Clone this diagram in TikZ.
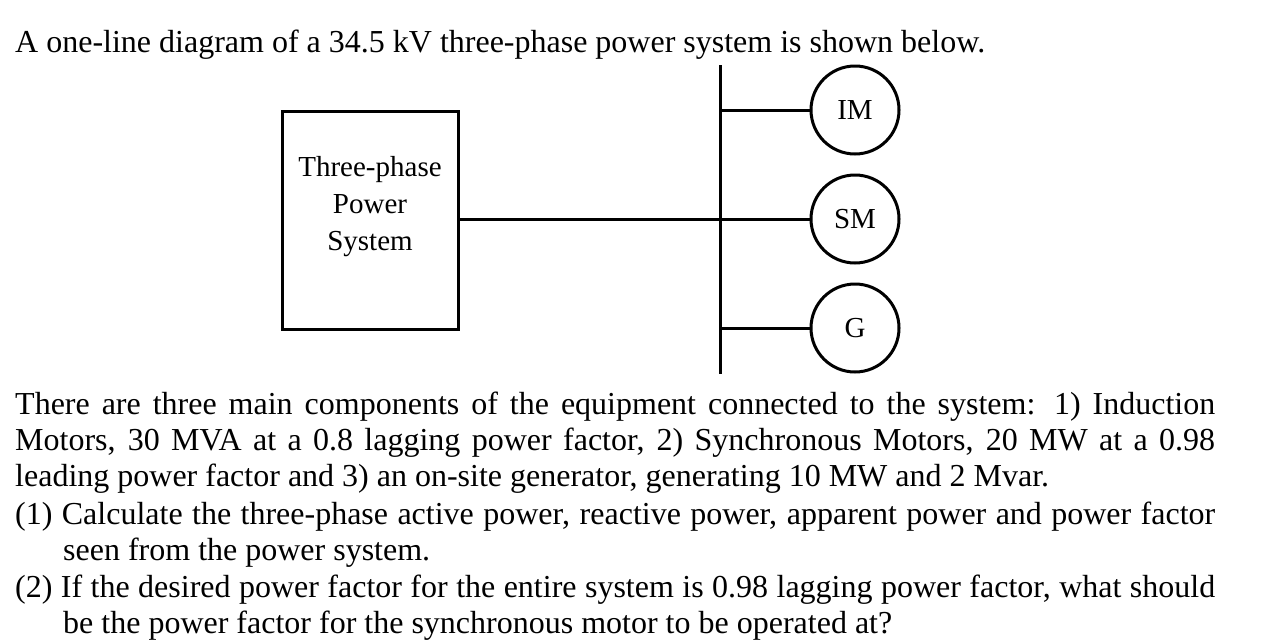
\documentclass[tikz,border=0pt]{standalone}
\usepackage{fontspec}
\setmainfont{Liberation Serif}
\begin{document}
\begin{tikzpicture}[x=1pt,y=-1pt,
  ln/.style={line width=3pt},
  mach/.style={circle,draw,line width=3pt,minimum size=88pt,inner sep=0pt,font=\fontsize{29}{32}\selectfont},
  txt/.style={inner sep=0pt,anchor=base west,align=justify,text width=1200pt,font=\fontsize{32}{36}\selectfont}]
\useasboundingbox (0,0) rectangle (1268,640);
\node[inner sep=0pt,anchor=base west,font=\fontsize{32}{36}\selectfont] (title) at (15,52) {A one-line diagram of a 34.5 kV three-phase power system is shown below.};
\node[draw,ln,minimum width=176pt,minimum height=218pt,inner sep=0pt] (ps) at (370,220) {};
\node[inner sep=0pt,align=center,font=\fontsize{29}{37}\selectfont] (pslabel) at (370,207) {Three-phase\\Power\\System};
\coordinate (bt) at (720,65);
\coordinate (bb) at (720,374);
\draw[ln] (bt) -- (bb);
\node[mach] (im) at (855,110) {IM};
\node[mach] (sm) at (855,219) {SM};
\node[mach] (g) at (855,328) {G};
\coordinate (b1) at (720,110);
\coordinate (b2) at (720,219);
\coordinate (b3) at (720,328);
\draw[ln] (ps.east|-b2) -- (b2);
\draw[ln] (b1) -- (im);
\draw[ln] (b2) -- (sm);
\draw[ln] (b3) -- (g);
\node[txt] (l1) at (15,414) {There are three main components of the equipment connected to the system: 1) Induction\linebreak};
\node[txt] (l2) at (15,450) {Motors, 30 MVA at a 0.8 lagging power factor, 2) Synchronous Motors, 20 MW at a 0.98\linebreak};
\node[inner sep=0pt,anchor=base west,font=\fontsize{32}{36}\selectfont] (l3) at (15,486) {leading power factor and 3) an on-site generator, generating 10 MW and 2 Mvar.};
\node[txt] (l4) at (15,524) {(1) Calculate the three-phase active power, reactive power, apparent power and power factor\linebreak};
\node[inner sep=0pt,anchor=base west,font=\fontsize{32}{36}\selectfont] (l5) at (63,560) {seen from the power system.};
\node[txt] (l6) at (15,597) {(2) If the desired power factor for the entire system is 0.98 lagging power factor, what should\linebreak};
\node[inner sep=0pt,anchor=base west,font=\fontsize{32}{36}\selectfont] (l7) at (63,633) {be the power factor for the synchronous motor to be operated at?};
\end{tikzpicture}
\end{document}
